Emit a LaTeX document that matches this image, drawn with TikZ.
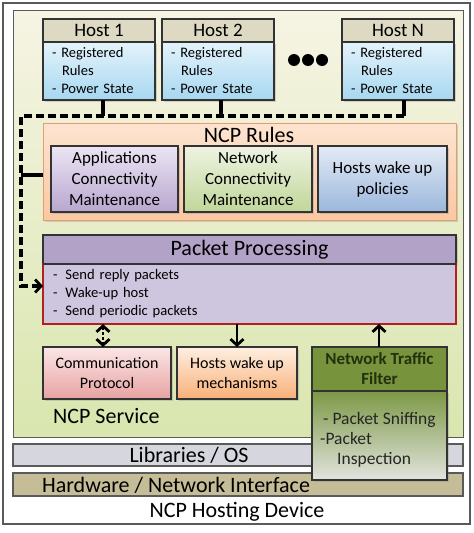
\documentclass[tikz,border=0pt]{standalone}
\usepackage{fontspec}
\setmainfont{Carlito}
\usetikzlibrary{arrows.meta,shadows}
\definecolor{frameC}{HTML}{5A5A5A}
\definecolor{svcT}{HTML}{F6F4E4}
\definecolor{svcB}{HTML}{D9E6AE}
\definecolor{hdrtan}{HTML}{DDD9C3}
\definecolor{hbT}{HTML}{E4F3FB}
\definecolor{hbB}{HTML}{A6D7F0}
\definecolor{rulT}{HTML}{FDE4D0}
\definecolor{rulB}{HTML}{FAC8A2}
\definecolor{rulD}{HTML}{E29E6C}
\definecolor{appT}{HTML}{EBE5F3}
\definecolor{appB}{HTML}{B8A6CF}
\definecolor{netT}{HTML}{EEF3E2}
\definecolor{netB}{HTML}{C0D699}
\definecolor{polT}{HTML}{E4EBF5}
\definecolor{polB}{HTML}{9BB7DC}
\definecolor{ppH}{HTML}{B3A2C7}
\definecolor{ppB}{HTML}{CEC6DF}
\definecolor{ppR}{HTML}{B42020}
\definecolor{comT}{HTML}{FBE6E6}
\definecolor{comB}{HTML}{E8A2A2}
\definecolor{wakT}{HTML}{FEEFE1}
\definecolor{wakB}{HTML}{F8B078}
\definecolor{filH}{HTML}{77933C}
\definecolor{filT}{HTML}{7C9845}
\definecolor{filB}{HTML}{E2E4DE}
\definecolor{filTx}{HTML}{22300E}
\definecolor{libC}{HTML}{D6D6DE}
\definecolor{hwC}{HTML}{C4BD97}
\tikzset{
  box/.style={draw=black!80, line width=1.2pt, inner sep=0pt, outer sep=0pt, anchor=north west, align=center},
  shad/.style={drop shadow={shadow xshift=2pt, shadow yshift=-2pt, opacity=0.3}},
  bigtxt/.style={font=\fontsize{22}{26}\selectfont, inner sep=0pt},
  hosthdr/.style={box, fill=hdrtan, font=\fontsize{19}{22}\selectfont, minimum width=112pt, minimum height=23pt},
  hostbody/.style={box, shad, top color=hbT, bottom color=hbB, font=\fontsize{14.5}{18}\selectfont, minimum width=112pt, minimum height=58pt, text width=94pt, inner xsep=9pt, align=left},
  rulebox/.style={box, shad, font=\fontsize{17}{21}\selectfont, minimum width=127pt, minimum height=66pt},
  botbox/.style={box, shad, font=\fontsize{16}{20}\selectfont, minimum height=52pt},
  dashline/.style={line width=3.3pt, dash pattern=on 8pt off 4pt},
  solidline/.style={line width=3.3pt},
  tipshape/.style={Straight Barb[length=6pt,width=13pt,line width=2.8pt]},
  tip/.style={-{Straight Barb[length=6pt,width=13pt,line width=2.8pt]}},
  dot/.style={circle, fill=black, inner sep=0pt, minimum size=12pt},
}
\begin{document}
\begin{tikzpicture}[x=1pt,y=-1pt]
\useasboundingbox (0,0) rectangle (474,533);
% outer frame and service area
\node[box, draw=frameC, line width=1.5pt, fill=white, minimum width=467pt, minimum height=521pt] (outer) at (3,3) {};
\node[box, draw=frameC, line width=1pt, top color=svcT, bottom color=svcB, minimum width=450pt, minimum height=427pt] (svc) at (13,10) {};
% hosts
\node[hosthdr] (h1h) at (43,19) {Host 1};
\node[hostbody] (h1b) at (43,42) {- Registered\\\hspace*{10pt}Rules\\- Power State};
\node[hosthdr] (h2h) at (162,19) {Host 2};
\node[hostbody] (h2b) at (162,42) {- Registered\\\hspace*{10pt}Rules\\- Power State};
\node[hosthdr] (hnh) at (342,19) {Host N};
\node[hostbody] (hnb) at (342,42) {- Registered\\\hspace*{10pt}Rules\\- Power State};
\node[dot] (d1) at (294,60) {};
\node[dot] (d2) at (308,60) {};
\node[dot] (d3) at (322,60) {};
% NCP rules
\node[box, shad, draw=rulD, line width=1pt, top color=rulT, bottom color=rulB, minimum width=413pt, minimum height=97pt] (rules) at (43,123) {};
\node[bigtxt] (rulest) at (249,135) {NCP Rules};
\node[rulebox, top color=appT, bottom color=appB] (app) at (51,146) {Applications\\Connectivity\\Maintenance};
\node[rulebox, top color=netT, bottom color=netB, minimum width=128pt] (net) at (184,146) {Network\\Connectivity\\Maintenance};
\node[rulebox, top color=polT, bottom color=polB, minimum width=129pt] (pol) at (318,146) {Hosts wake up\\policies};
% packet processing
\node[box, shad, fill=ppH, font=\fontsize{22}{26}\selectfont, minimum width=413pt, minimum height=29pt] (pph) at (43,235) {Packet Processing};
\node[box, draw=ppR, line width=1.2pt, fill=ppB, font=\fontsize{14.6}{18}\selectfont, minimum width=413pt, minimum height=60pt, text width=393pt, inner xsep=10pt, align=left] (ppb) at (43,264) {-\hspace{8pt}Send reply packets\\-\hspace{8pt}Wake-up host\\-\hspace{8pt}Send periodic packets};
\draw[black!80, line width=1.2pt] (ppb.north west) -- (ppb.north east);
% bottom boxes
\node[botbox, top color=comT, bottom color=comB, minimum width=128pt] (comm) at (43,347) {Communication\\Protocol};
\node[botbox, top color=wakT, bottom color=wakB, minimum width=120pt] (wake) at (177,347) {Hosts wake up\\mechanisms};
\node[bigtxt, anchor=west] (svct) at (53,416) {NCP Service};
% layers
\node[box, draw=frameC, fill=libC, minimum width=450pt, minimum height=22pt] (lib) at (13,444) {};
\node[bigtxt] (libt) at (189,455) {Libraries / OS};
\node[box, draw=frameC, fill=hwC, minimum width=450pt, minimum height=23pt] (hw) at (13,473) {};
\node[bigtxt] (hwt) at (176,485) {Hardware / Network Interface};
% filter
\node[box, shad, top color=filT, bottom color=filB, minimum width=135pt, minimum height=89pt] (filb) at (312,391) {};
\node[box, fill=filH, text=filTx, font=\bfseries\fontsize{17}{20}\selectfont, minimum width=135pt, minimum height=44pt] (filh) at (312,347) {Network Traffic\\Filter};
\node[anchor=west, inner sep=0pt, align=left, text=black!85, font=\fontsize{17.5}{20}\selectfont] (filt) at (320,440) {\hspace*{3pt}- Packet Sniffing\\-Packet\\\hspace*{17pt}Inspection};
\node[bigtxt] (hostdev) at (237,512) {NCP Hosting Device};
% connectors from hosts
\coordinate (c1) at (103,116);
\coordinate (c2) at (221,116);
\coordinate (cn) at (404,116);
\coordinate (dl) at (21,116);
\coordinate (dc) at (21,286);
\coordinate (tk) at (21,175);
\draw[solidline] (h1b.south -| c1) -- (c1);
\draw[solidline] (h2b.south -| c2) -- (c2);
\draw[solidline] (hnb.south -| cn) -- (cn);
\draw[dashline, tip] (cn) -- (dl) -- (dc) -- (ppb.west |- dc);
\draw[solidline] (tk) -- (rules.west |- tk);
% arrows between packet processing and lower boxes
\coordinate (a1) at (103,330);
\coordinate (a2) at (237,330);
\coordinate (a3) at (379,330);
\draw[line width=2.8pt, dash pattern=on 2.5pt off 2.5pt, {Straight Barb[length=6pt,width=13pt,line width=2.8pt]}-{Straight Barb[length=6pt,width=13pt,line width=2.8pt]}] (ppb.south -| a1) -- (comm.north -| a1);
\draw[line width=2.8pt, tip] (ppb.south -| a2) -- (wake.north -| a2);
\draw[line width=2.8pt, tip] (filh.north -| a3) -- (ppb.south -| a3);
\end{tikzpicture}
\end{document}
